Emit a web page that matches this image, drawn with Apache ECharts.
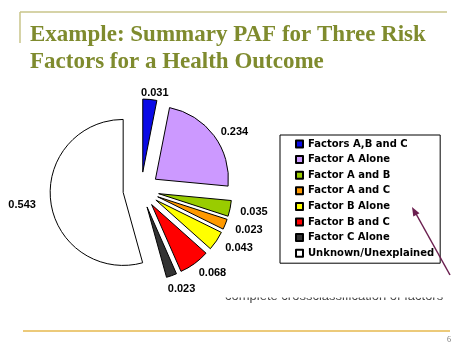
<!DOCTYPE html>
<html>
<head>
<meta charset="utf-8">
<script src="https://cdn.jsdelivr.net/npm/echarts@6/dist/echarts.min.js"></script>
<style>
html,body{margin:0;padding:0;background:#fff;}
#chart{width:474px;height:355px;}
</style>
</head>
<body>
<div id="chart"></div>
<script>
// Data
const categories = ['Factors A,B and C','Factor A Alone','Factor A and B','Factor A and C','Factor B Alone','Factor B and C','Factor C Alone','Unknown/Unexplained'];
const values = [0.031, 0.234, 0.035, 0.023, 0.043, 0.068, 0.023, 0.543];
const colors = ['#0a0ae6','#cc99ff','#99cc00','#ff9900','#ffff00','#ff0000','#333333','#ffffff'];
const titleLines = ['Example: Summary PAF for Three Risk','Factors for a Health Outcome'];
const noteText = 'complete crossclassification of factors';
const pageNumber = '6';

const chart = echarts.init(document.getElementById('chart'), null, {renderer:'canvas'});

// Mid-angle direction of each slice (clockwise from 12 o'clock), from the data
const total = values.reduce((a,b)=>a+b,0);
function sliceDir(i){
  let cum = 0;
  for(let j=0;j<i;j++) cum += values[j];
  const t = 2*Math.PI*(cum + values[i]/2)/total;
  return [Math.sin(t), -Math.cos(t)];
}
// Center labels that sit above/below the pie (Excel-like outside-end placement)
function labelLayout(params){
  const r = params.labelRect;
  const [ux, uy] = sliceDir(params.dataIndex);
  const k = Math.pow(Math.abs(uy), 4);
  const sign = ux < 0 ? -1 : 1;
  const shift = -sign * (r.width/2 + 5) * k;
  return {dx: shift, dy: 5*Math.sqrt(Math.max(0, uy))};
}

const option = {
  backgroundColor:'#ffffff',
  animation:false,
  title:{
    text: titleLines.join('\n'),
    left: 25, top: 16,
    textStyle:{fontFamily:'Liberation Serif', fontWeight:'bold', fontSize:23, color:'#7f8b2e', lineHeight:27.5}
  },
  legend:{
    orient:'vertical',
    left:280, top:135,
    data: categories,
    icon:'rect',
    itemWidth:7, itemHeight:7,
    itemGap:3.6,
    padding:[3,6,4,15],
    backgroundColor:'#ffffff',
    borderColor:'#000000', borderWidth:1,
    selectedMode:false,
    textStyle:{fontFamily:'DejaVu Sans', fontWeight:'bold', fontSize:10, color:'#000', lineHeight:12}
  },
  series:[{
    type:'pie',
    center:[141,190],
    radius:73,
    startAngle:90,
    clockwise:true,
    selectedMode:'multiple',
    selectedOffset:18,
    silent:true,
    data: categories.map((n,i)=>({name:n, value:values[i], selected:true, itemStyle:{color:colors[i]}})),
    itemStyle:{borderColor:'#000', borderWidth:1},
    label:{
      show:true, position:'outside',
      formatter:(p)=>p.value.toFixed(3),
      fontFamily:'Liberation Sans', fontWeight:'bold', fontSize:11, color:'#000'
    },
    labelLine:{show:false, length:6, length2:4},
    labelLayout: labelLayout,
    emphasis:{disabled:true}
  }],
  graphic:[
    {type:'line', shape:{x1:20,y1:12,x2:447,y2:12}, style:{stroke:'#c9c48a', lineWidth:1.5}},
    {type:'line', shape:{x1:20,y1:12,x2:20,y2:43}, style:{stroke:'#c9c48a', lineWidth:1.5}},
    {type:'line', shape:{x1:23,y1:331,x2:450,y2:331}, style:{stroke:'#e6b94e', lineWidth:1.5}},
    {type:'text', x:225, y:290, style:{text:noteText, font:'13px "Liberation Sans"', fill:'#444'}, z:10},
    {type:'rect', shape:{x:215,y:282,width:240,height:15.5}, style:{fill:'#ffffff'}, z:11},
    {type:'text', x:447, y:336, style:{text:pageNumber, font:'8px "Liberation Serif"', fill:'#777'}, z:10},
    {type:'line', shape:{x1:450,y1:275,x2:415,y2:212}, style:{stroke:'#6b1f4f', lineWidth:1.5}, z:20},
    {type:'polygon', shape:{points:[[412,207],[419.5,213.2],[413.3,216.6]]}, style:{fill:'#6b1f4f'}, z:20}
  ]
};
chart.setOption(option);
</script>
</body>
</html>
